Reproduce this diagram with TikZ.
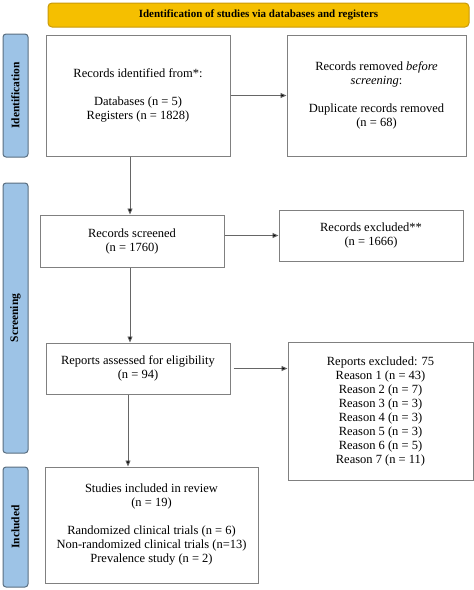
\documentclass[tikz,border=0pt]{standalone}
\usepackage{fontspec}
\setmainfont{Liberation Serif}
\usetikzlibrary{%
    arrows.meta,
    calc,
    positioning
}

\definecolor{bannerfill}{HTML}{F5BF00}
\definecolor{bannerline}{HTML}{C99A0A}
\definecolor{phasefill}{HTML}{9DC3E6}
\definecolor{phaseline}{HTML}{5A6E80}
\definecolor{boxline}{HTML}{808080}

\begin{document}
\begin{tikzpicture}[x=1pt, y=-1pt,
        every node/.style={font=\fontsize{12.5}{14}\selectfont},
        box/.style={draw=boxline, line width=1pt, align=center,
                    inner sep=0pt},
        phase/.style={draw=phaseline, fill=phasefill, line width=1pt,
                      rounded corners=3pt, rotate=90, inner sep=0pt,
                      minimum height=25pt,
                      font=\fontsize{11.5}{13}\selectfont\bfseries},
        arr/.style={-{Triangle[length=6pt,width=5pt,fill=black]},
                    line width=0.9pt, draw=black!60}
    ]
    \useasboundingbox (0,0) rectangle (474,590);

    \node (banner) [draw=bannerline, fill=bannerfill, line width=1pt,
                    rounded corners=4pt, minimum width=421pt,
                    minimum height=24pt, inner sep=0pt,
                    font=\fontsize{11}{13}\selectfont\bfseries]
        at (258.5,15) {Identification of studies via databases and registers};

    \foreach \Name/\Y/\Len/\Text in {%
        ident/95.5/123/Identification,
        screen/318/270/Screening,
        incl/527/120/Included%
        }
        \node (\Name) [phase, minimum width=\Len pt] at (15.5,\Y) {\Text};

    \node (identified) [box, minimum width=184pt, minimum height=121pt]
        at (138,95.5) {Records identified from*:\\[14pt]
                       Databases (n = 5)\\Registers (n = 1828)};
    \node (removed) [box, minimum width=179pt, minimum height=121pt]
        at (376.5,95.5) {Records removed \emph{before}\\\emph{screening}:\\[14pt]
                         Duplicate records removed\\(n = 68)};

    \node (screened) [box, minimum width=184pt, minimum height=52pt]
        at (132,241) {Records screened\\(n = 1760)};
    \node (excluded) [box, minimum width=184pt, minimum height=51pt]
        at (371,235.5) {Records excluded**\\(n = 1666)};

    \node (assessed) [box, minimum width=184pt, minimum height=51pt]
        at (138,368.5) {Reports assessed for eligibility\\(n = 94)};
    \node (reports) [box, minimum width=185pt, minimum height=138pt]
        at (380.5,411) {Reports excluded: 75\\Reason 1 (n = 43)\\Reason 2 (n = 7)\\
                        Reason 3 (n = 3)\\Reason 4 (n = 3)\\Reason 5 (n = 3)\\
                        Reason 6 (n = 5)\\Reason 7 (n = 11)};

    \node (included) [box, minimum width=213pt, minimum height=116pt]
        at (151.5,525) {Studies included in review\\(n = 19)\\[14pt]
                        Randomized clinical trials (n = 6)\\
                        Non-randomized clinical trials (n=13)\\
                        Prevalence study (n = 2)};

    \draw[arr] (identified.east) -- (removed.west);
    \draw[arr] (screened.east |- excluded.west) -- (excluded.west);
    \draw[arr, shorten <=3pt] (assessed.east) -- (assessed.east -| reports.west);

    \draw[arr] ([xshift=-8pt]identified.south)
        -- ([xshift=-8pt]identified.south |- screened.north);
    \draw[arr] ([xshift=-2pt]screened.south)
        -- ([xshift=-2pt]screened.south |- assessed.north);
    \draw[arr] ([xshift=-10pt]assessed.south)
        -- ([xshift=-10pt]assessed.south |- included.north);
\end{tikzpicture}
\end{document}
